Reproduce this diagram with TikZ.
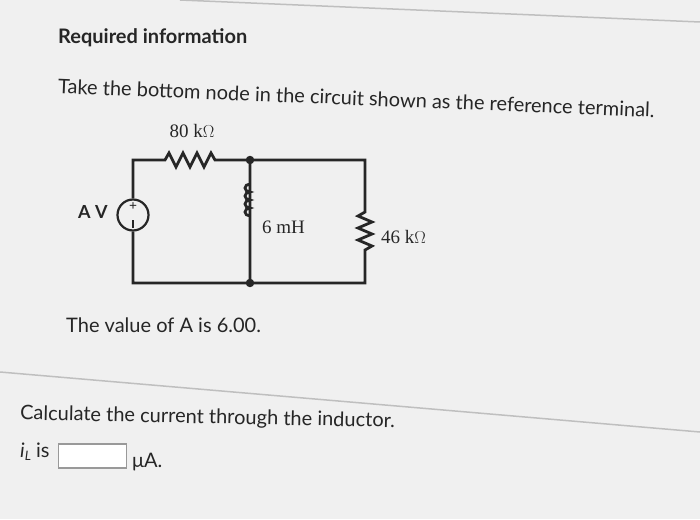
\documentclass[tikz,border=0pt]{standalone}
\usepackage{fontspec}
\setmainfont{Liberation Serif}
\newfontfamily\ui{Lato}
\begin{document}
\begin{tikzpicture}[x=1pt,y=-1pt,
  wire/.style={line width=2.8pt,black!85},
  ui/.style={font=\ui\fontsize{20}{22}\selectfont,text=black!85,anchor=west,inner sep=0},
  lab/.style={font=\fontsize{19}{21}\selectfont,inner sep=0,text=black!85},
  dot/.style={circle,fill=black!85,inner sep=3pt}]
\fill[black!6] (0,0) rectangle (700,519);
\useasboundingbox (0,0) rectangle (700,519);
\draw[black!25,line width=1.5pt] (180,0) -- (700,22);
\draw[black!25,line width=1.5pt] (0,372) -- (700,432);
\node[ui,font=\ui\bfseries\fontsize{20}{22}\selectfont] (t1) at (58,38) {Required information};
\node[ui,rotate=-2.3] (t2) at (58,86) {Take the bottom node in the circuit shown as the reference terminal.};
% circuit
\coordinate (tl) at (133,160); \coordinate (tm) at (250,160); \coordinate (tr) at (365,160);
\coordinate (bl) at (133,283); \coordinate (bm) at (250,283); \coordinate (br) at (365,283);
\node[circle,draw=black!85,line width=2.2pt,minimum size=31pt,inner sep=0] (src) at (133,215) {};
\node[font=\bfseries\fontsize{14}{14}\selectfont,text=black!85,inner sep=0] (plus) at (133,207) {+};
\draw[line width=2pt,black!85] (133,220) -- (133,228);
\draw[wire] (src.north) -- (tl) -- (165,160)
  -- (169,153) -- (176,167) -- (183,153) -- (190,167) -- (197,153) -- (204,167) -- (211,153) -- (215,160)
  -- (tm) -- (tr) -- (365,212)
  -- (358,216) -- (372,222) -- (358,228) -- (372,234) -- (358,240) -- (372,246) -- (365,250)
  -- (br) -- (bm) -- (bl) -- (src.south);
\draw[wire] (tm) -- (250,216)
  arc[start angle=90,end angle=270,x radius=5,y radius=4]
  arc[start angle=90,end angle=270,x radius=5,y radius=4]
  arc[start angle=90,end angle=270,x radius=5,y radius=4]
  arc[start angle=90,end angle=270,x radius=5,y radius=4]
  -- (bm);
\node[dot] (d1) at (tm) {};
\node[dot] (d2) at (bm) {};
\node[lab] (r1) at (192,131) {80 k$\Omega$};
\node[ui,font=\ui\bfseries\fontsize{18}{20}\selectfont] (av) at (78,212) {A V};
\node[lab,anchor=west] (l1) at (262,227) {6 mH};
\node[lab,anchor=west] (r2) at (381,237) {46 k$\Omega$};
\node[ui] (t3) at (66,325) {The value of A is 6.00.};
\node[ui,rotate=-1.2] (t4) at (20,414) {Calculate the current through the inductor.};
\node[ui] (t5) at (20,452) {\textit{i}\raisebox{-0.3ex}{\fontsize{13}{13}\selectfont\textit{L}} is};
\node[draw=black!40,fill=white,minimum width=68pt,minimum height=24pt,anchor=west,line width=1.2pt] (box) at (58,456) {};
\node[ui] (t6) at (132,462) {μA.};
\end{tikzpicture}
\end{document}
